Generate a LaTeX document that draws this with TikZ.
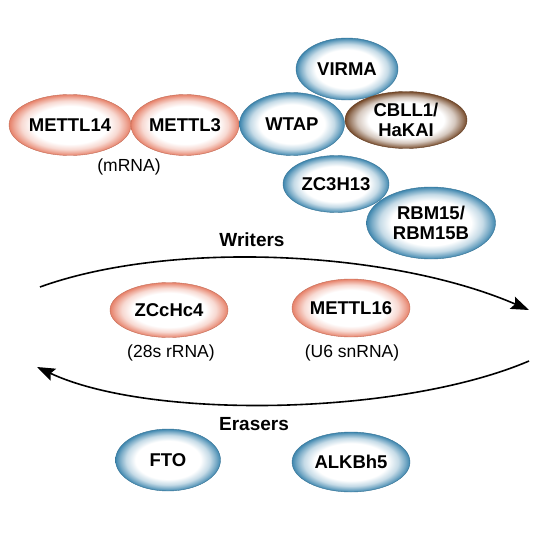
\documentclass[tikz,border=0pt]{standalone}
\usepackage{fontspec}
\setmainfont{Liberation Sans}
\usetikzlibrary{shapes.geometric,arrows.meta}

\definecolor{salmon}{RGB}{230,128,104}
\definecolor{steel}{RGB}{62,134,174}
\definecolor{umber}{RGB}{116,72,40}

\pgfdeclareradialshading{salmonring}{\pgfpoint{0bp}{0bp}}{color(0bp)=(white); color(15.5bp)=(white); color(20bp)=(salmon!30!white); color(23bp)=(salmon!70!white); color(25bp)=(salmon); color(50bp)=(salmon)}
\pgfdeclareradialshading{steelring}{\pgfpoint{0bp}{0bp}}{color(0bp)=(white); color(15.5bp)=(white); color(20bp)=(steel!30!white); color(23bp)=(steel!70!white); color(25bp)=(steel); color(50bp)=(steel)}
\pgfdeclareradialshading{umberring}{\pgfpoint{0bp}{0bp}}{color(0bp)=(white); color(15.5bp)=(white); color(20bp)=(umber!30!white); color(23bp)=(umber!70!white); color(25bp)=(umber); color(50bp)=(umber)}

\tikzset{
	enzyme/.style={shape=ellipse, inner sep=0pt, align=center, line width=0.4pt,
		font=\fontsize{18.5}{19.5}\selectfont\bfseries},
	redring/.style={enzyme, shading=salmonring, draw=salmon!85!black},
	bluering/.style={enzyme, shading=steelring, draw=steel!85!black},
	brownring/.style={enzyme, shading=umberring, draw=umber!85!black},
	substrate/.style={font=\fontsize{17.5}{19}\selectfont},
	heading/.style={font=\fontsize{19}{20}\selectfont\bfseries},
	cycle/.style={line width=1.6pt, -{Stealth[length=18pt,width=13pt,inset=3pt]}}
}

\begin{document}
\begin{tikzpicture}[x=1pt, y=-1pt]
	\useasboundingbox (0, 0) rectangle (537, 537);

	% writer complex
	\node[redring, minimum width=122, minimum height=61] (m14) at (70, 125) {METTL14};
	\node[redring, minimum width=108, minimum height=61] (m3) at (185, 125) {METTL3};
	\node[bluering, minimum width=105, minimum height=63] (wtap) at (292, 124) {WTAP};
	\node[bluering, minimum width=102, minimum height=62] (virma) at (347, 69) {VIRMA};
	\node[brownring, minimum width=122, minimum height=57] (cbll) at (406, 120) {CBLL1/\\HaKAI};
	\node[bluering, minimum width=106, minimum height=57] (zc) at (336, 184) {ZC3H13};
	\node[bluering, minimum width=129, minimum height=72] (rbm) at (431, 223) {RBM15/\\RBM15B};
	\node[substrate] (mrna) at (129, 167) {(mRNA)};

	\node[heading] (wr) at (252, 240) {Writers};

	% other writers
	\node[redring, minimum width=118, minimum height=55] (zcchc) at (169, 310) {ZCcHc4};
	\node[redring, minimum width=118, minimum height=58] (m16) at (351, 308) {METTL16};
	\node[substrate] (rrna) at (171, 353) {(28s rRNA)};
	\node[substrate] (snrna) at (352, 353) {(U6 snRNA)};

	% cycle arrows
	\coordinate (tl) at (40, 287);
	\coordinate (tr) at (529, 310);
	\coordinate (br) at (529, 361);
	\coordinate (bl) at (37, 367);
	\draw[cycle] (tl) .. controls (170, 240) and (390, 250) .. (tr);
	\draw[cycle] (br) .. controls (400, 416) and (150, 420) .. (bl);

	% erasers
	\node[heading] (er) at (254, 424) {Erasers};
	\node[bluering, minimum width=105, minimum height=62] (fto) at (168, 460) {FTO};
	\node[bluering, minimum width=118, minimum height=60] (alkb) at (351, 462) {ALKBh5};
\end{tikzpicture}
\end{document}
